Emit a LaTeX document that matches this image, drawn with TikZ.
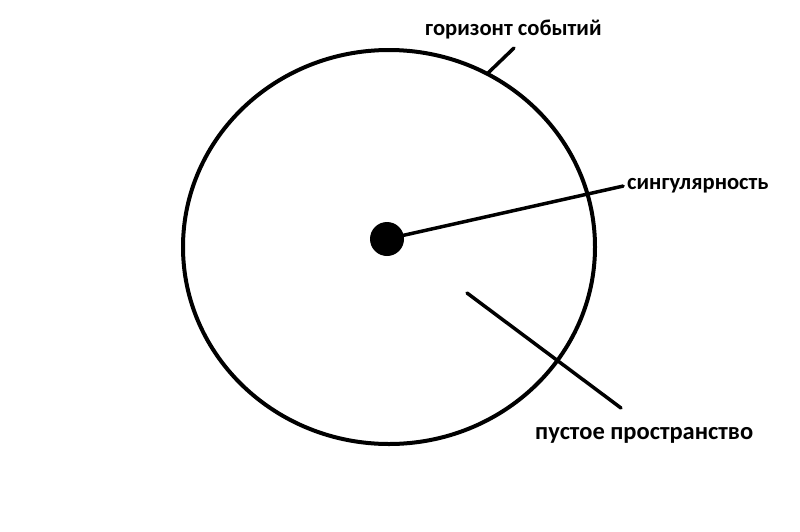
\documentclass[tikz,border=0pt]{standalone}
\usepackage{fontspec}
\setmainfont{Carlito}
\usepackage{tikz}
\usetikzlibrary{positioning}
\tikzset{%
  horizon/.style={%
    draw=black,%
    line width=4pt,%
  },
  singularity/.style={%
    circle,%
    fill=black,%
    minimum size=34pt,%
    inner sep=0pt,%
  },
  pointer_path/.style={%
    draw=black,%
    line width=3.5pt,%
    line cap=round,%
  },
  annotate/.style={%
    font={\bfseries\fontsize{22.6}{24}\selectfont},%
    inner sep=0pt,%
  },
  annotate_big/.style={%
    font={\bfseries\fontsize{24.5}{26}\selectfont},%
    inner sep=0pt,%
  },
}

\begin{document}
\begin{tikzpicture}[x=1pt, y=-1pt]

    \useasboundingbox [fill=white] (0,0) rectangle (800,531);

    \draw [horizon] (389,247) ellipse [x radius=206, y radius=197];
    \node [singularity] (Dot) at (387,239) {};

    \node [annotate, anchor=base west] (horizon_label) at (425,35) {горизонт событий};
    \node [annotate, anchor=base west] (dot_label) at (627,189) {сингулярность};
    \node [annotate_big, anchor=base west] (space_label) at (535,439) {пустое пространство};

    \coordinate (horizon_foot) at (488,73);
    \coordinate (horizon_top) at (514,48);
    \coordinate (space_start) at (467,293);
    \coordinate (space_end) at (621,408);

    \draw [pointer_path, shorten >=4pt] (Dot.center) -- (dot_label.west);
    \draw [pointer_path] (horizon_foot) -- (horizon_top);
    \draw [pointer_path] (space_start) -- (space_end);
  \end{tikzpicture}
\end{document}
